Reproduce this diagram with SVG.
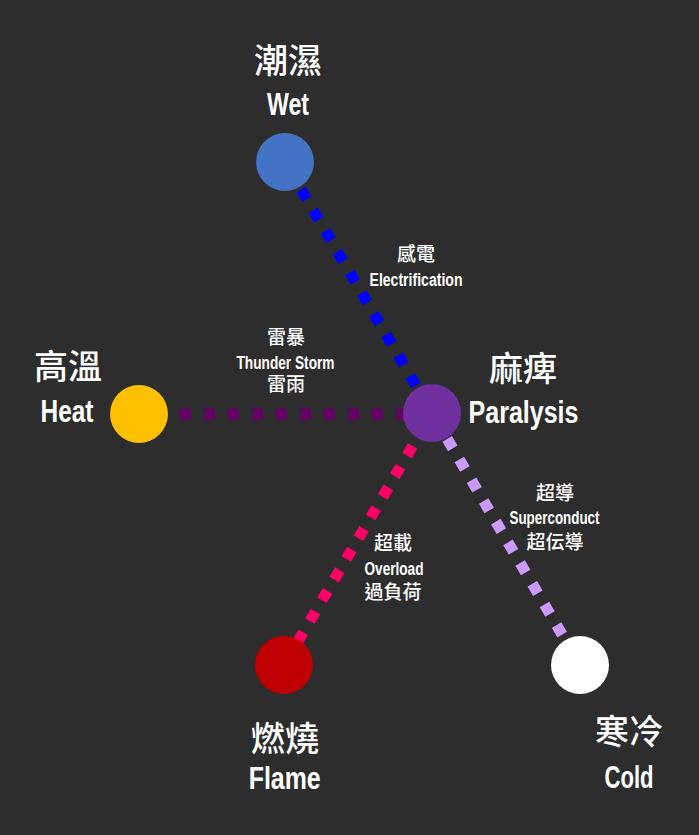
<svg xmlns="http://www.w3.org/2000/svg" width="699" height="835" viewBox="0 0 699 835">
<style>
.bg{fill:#2d2d2d}
text{fill:#ffffff;text-anchor:middle;font-family:"Liberation Sans","Noto Sans CJK TC",sans-serif;font-weight:bold}
.cjk{font-family:"Noto Sans CJK TC","Noto Sans CJK JP",sans-serif;font-weight:500}
.big{font-size:34px}
.bigen{font-size:31px}
.sm{font-size:19px}
.smen{font-size:18px}
.link{fill:none;stroke-width:11;stroke-dasharray:11 13}
</style>
<rect class="bg" x="0" y="0" width="699" height="835"/>
<g id="connectors">
<line class="link" x1="139" y1="414" x2="432" y2="414" stroke="#660066" stroke-dashoffset="-41"/>
<line class="link" x1="285" y1="162" x2="432" y2="413" stroke="#0000ff" stroke-dashoffset="-8"/>
<line class="link" x1="284" y1="665" x2="432" y2="413" stroke="#ff0066" stroke-dashoffset="-3"/>
<line class="link" x1="432" y1="413" x2="580" y2="665" stroke="#cc99ff" stroke-dashoffset="-6"/>
</g>
<g id="label-electrification">
<text class="cjk sm" x="416" y="260.5">感電</text>
<text class="smen" x="416" y="286" textLength="93" lengthAdjust="spacingAndGlyphs">Electrification</text>
</g>
<g id="label-thunder">
<text class="cjk sm" x="286" y="344">雷暴</text>
<text class="smen" x="285.5" y="369" textLength="98" lengthAdjust="spacingAndGlyphs">Thunder Storm</text>
<text class="cjk sm" x="286" y="391">雷雨</text>
</g>
<g id="label-overload">
<text class="cjk sm" x="393" y="550">超載</text>
<text class="smen" x="394" y="575" textLength="59" lengthAdjust="spacingAndGlyphs">Overload</text>
<text class="cjk sm" x="393" y="598.5">過負荷</text>
</g>
<g id="label-superconduct">
<text class="cjk sm" x="555" y="500">超導</text>
<text class="smen" x="554.5" y="524" textLength="90" lengthAdjust="spacingAndGlyphs">Superconduct</text>
<text class="cjk sm" x="555" y="548.5">超伝導</text>
</g>
<g id="node-wet">
<circle cx="285" cy="162" r="29" fill="#4472c4"/>
<text class="cjk big" x="288" y="72.5">潮濕</text>
<text class="bigen" x="288" y="115" textLength="42" lengthAdjust="spacingAndGlyphs">Wet</text>
</g>
<g id="node-heat">
<circle cx="139" cy="414" r="29" fill="#ffc000"/>
<text class="cjk big" x="68" y="379">高溫</text>
<text class="bigen" x="67" y="422" textLength="53" lengthAdjust="spacingAndGlyphs">Heat</text>
</g>
<g id="node-paralysis">
<circle cx="432" cy="413" r="29" fill="#7030a0"/>
<text class="cjk big" x="523" y="381">麻痺</text>
<text class="bigen" x="523.5" y="423" textLength="110" lengthAdjust="spacingAndGlyphs">Paralysis</text>
</g>
<g id="node-flame">
<circle cx="284" cy="665" r="29" fill="#c00000"/>
<text class="cjk big" x="285" y="751">燃燒</text>
<text class="bigen" x="284.7" y="789" textLength="72" lengthAdjust="spacingAndGlyphs">Flame</text>
</g>
<g id="node-cold">
<circle cx="580" cy="665" r="29" fill="#ffffff"/>
<text class="cjk big" x="629" y="744">寒冷</text>
<text class="bigen" x="629" y="788" textLength="49" lengthAdjust="spacingAndGlyphs">Cold</text>
</g>
</svg>
